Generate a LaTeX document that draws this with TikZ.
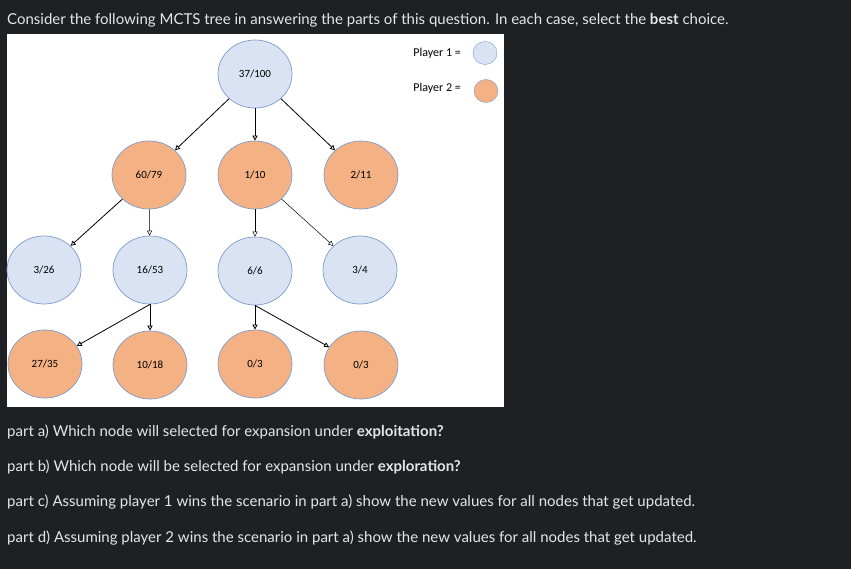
\documentclass[tikz,border=0pt]{standalone}
\usepackage{fontspec}
\usetikzlibrary{shapes.geometric,arrows.meta}
\setmainfont{Lato}
\newfontfamily\carl{Carlito}
\definecolor{bg}{HTML}{1F2023}
\definecolor{txt}{HTML}{E6E6E6}
\definecolor{pone}{HTML}{DAE3F3}
\definecolor{ptwo}{HTML}{F4B183}
\definecolor{edge}{HTML}{7F9CCB}
\begin{document}
\begin{tikzpicture}[x=1pt,y=-1pt,
  nd/.style={ellipse,draw=edge,line width=0.7pt,minimum width=74pt,minimum height=68pt,inner sep=0pt,font=\carl\fontsize{11}{13}\selectfont},
  a/.style={nd,fill=pone},
  b/.style={nd,fill=ptwo},
  ar/.style={-{Stealth[length=5pt,width=5pt,inset=0pt,open]},line width=0.8pt,black},
  tx/.style={anchor=west,text=txt,font=\fontsize{15}{18}\selectfont,inner sep=0pt},
  lg/.style={anchor=east,font=\carl\fontsize{12}{14}\selectfont,inner sep=0pt}]
\fill[bg] (0,0) rectangle (851,569);
\useasboundingbox (0,0) rectangle (851,569);
\fill[white] (7,34) rectangle (504,407);
\node[tx] (t) at (7,20) {Consider the following MCTS tree in answering the parts of this question. In each case, select the \textbf{best} choice.};
\node[a] (r) at (255,74) {37/100};
\node[b] (n1) at (149,175) {60/79};
\node[b] (n2) at (255,175) {1/10};
\node[b] (n3) at (361,175) {2/11};
\node[a] (m1) at (44,270) {3/26};
\node[a] (m2) at (150,270) {16/53};
\node[a] (m3) at (255,271) {6/6};
\node[a] (m4) at (360,270) {3/4};
\node[b] (k1) at (45,364) {27/35};
\node[b] (k2) at (150,365) {10/18};
\node[b] (k3) at (255,364) {0/3};
\node[b] (k4) at (361,365) {0/3};
\draw[ar] (r) -- (n1); \draw[ar] (r) -- (n2); \draw[ar] (r) -- (n3);
\draw[ar] (n1) -- (m1); \draw[ar,line width=0.5pt] (n1) -- (m2);
\draw[ar,line width=0.5pt] (n2) -- (m3); \draw[ar,line width=0.5pt] (n2) -- (m4);
\draw[ar] (m2.south) -- (k1); \draw[ar] (m2.south) -- (k2.north);
\draw[ar] (m3.south) -- (k3.north); \draw[ar] (m3.south) -- (k4);
\node[lg] (l1) at (461,53) {Player 1 =};
\node[lg] (l2) at (461,88) {Player 2 =};
\node[ellipse,draw=edge,fill=pone,minimum width=24pt,minimum height=23pt,inner sep=0pt] (c1) at (485,53) {};
\node[ellipse,draw=edge,fill=ptwo,minimum width=24pt,minimum height=23pt,inner sep=0pt] (c2) at (486,91) {};
\node[tx] (p1) at (7,432) {part a) Which node will selected for expansion under \textbf{exploitation?}};
\node[tx] (p2) at (7,467) {part b) Which node will be selected for expansion under \textbf{exploration?}};
\node[tx] (p3) at (7,502) {part c) Assuming player 1 wins the scenario in part a) show the new values for all nodes that get updated.};
\node[tx] (p4) at (7,538) {part d) Assuming player 2 wins the scenario in part a) show the new values for all nodes that get updated.};
\end{tikzpicture}
\end{document}
